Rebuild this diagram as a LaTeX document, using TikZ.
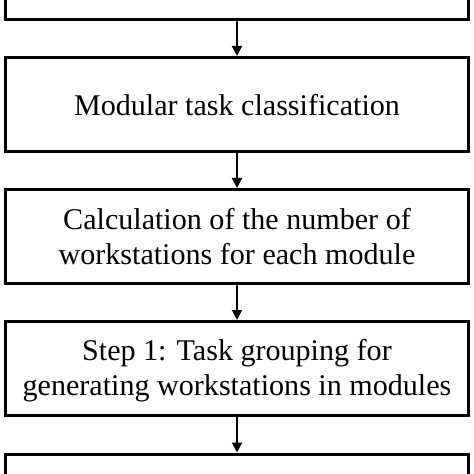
\documentclass[tikz,border=0pt]{standalone}
\usepackage{fontspec}
\setmainfont{Liberation Serif}
\usetikzlibrary{arrows.meta}
\newcommand\boxstrut{\rule[-4bp]{0pt}{29.5bp}}
\begin{document}
\begin{tikzpicture}[x=1bp,y=-1bp,
  box/.style={draw, rectangle, line width=3bp, minimum width=463bp, minimum height=94bp,
    align=center, inner sep=0pt, font=\fontsize{30.2}{35.6}\selectfont},
  conn/.style={line width=2bp, -{Triangle[width=10bp,length=10bp]}}]
\useasboundingbox (0,0) rectangle (474,474);
\clip (0,0) rectangle (474,474);
\node[box] (b1) at (237,-27.5) {};
\node[box] (b2) at (237,104.5) {\boxstrut Modular task classification};
\node[box] (b3) at (237,236.5) {\boxstrut Calculation of the number of\\workstations for each module\boxstrut};
\node[box] (b4) at (237,368.5) {\boxstrut Step 1: Task grouping for\\generating workstations in modules\boxstrut};
\node[box] (b5) at (237,501) {};
\draw[conn] (b1) -- (b2);
\draw[conn] (b2) -- (b3);
\draw[conn] (b3) -- (b4);
\draw[conn] (b4) -- (b5);
\end{tikzpicture}
\end{document}
